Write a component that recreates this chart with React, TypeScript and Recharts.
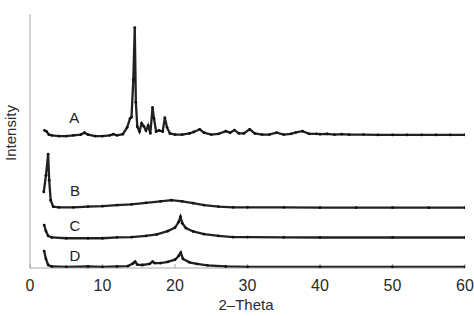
import React from 'react';
import { LineChart, Line, XAxis, YAxis, ReferenceDot, Label } from 'recharts';

// XRD patterns, traces stacked with an offset (arbitrary intensity units)
const aTheta = [2.0, 2.3, 2.6, 3, 4, 5, 6, 7, 7.5, 8, 9, 10, 11, 11.5, 12, 12.8, 13.4, 13.8, 14.0, 14.25, 14.45, 14.6, 14.8, 15.1, 15.4, 15.7, 16.0, 16.3, 16.6, 16.9, 17.1, 17.4, 17.8, 18.3, 18.6, 18.9, 19.3, 20, 21, 22, 22.6, 23.4, 24, 25, 26, 27, 27.6, 28.2, 28.8, 29.5, 30.3, 31, 32, 33, 34, 35, 36, 36.7, 37.6, 38.5, 39.5, 40, 41, 42, 43, 44, 46, 48, 50, 52, 54, 56, 58, 60];
const aInt = [3.65, 3.62, 3.54, 3.52, 3.5, 3.5, 3.52, 3.54, 3.59, 3.54, 3.5, 3.5, 3.52, 3.55, 3.52, 3.55, 3.73, 3.97, 4.0, 5.0, 6.38, 4.4, 3.75, 3.62, 3.84, 3.76, 3.65, 3.78, 3.57, 4.26, 3.97, 3.62, 3.65, 3.62, 3.99, 3.73, 3.57, 3.54, 3.54, 3.57, 3.61, 3.68, 3.59, 3.54, 3.56, 3.63, 3.59, 3.66, 3.57, 3.57, 3.68, 3.57, 3.54, 3.54, 3.59, 3.54, 3.56, 3.6, 3.63, 3.56, 3.56, 3.55, 3.56, 3.54, 3.55, 3.54, 3.54, 3.53, 3.53, 3.53, 3.53, 3.53, 3.53, 3.53];

const bTheta = [1.9, 2.2, 2.5, 2.65, 2.85, 3.2, 4, 6, 8, 10, 12, 14, 16, 18, 19.5, 21, 22.5, 24, 26, 28, 30, 35, 40, 45, 50, 55, 60];
const bInt = [2.02, 2.46, 3.02, 2.33, 1.8, 1.63, 1.61, 1.61, 1.63, 1.64, 1.67, 1.69, 1.73, 1.77, 1.8, 1.77, 1.72, 1.67, 1.63, 1.61, 1.61, 1.61, 1.6, 1.6, 1.6, 1.6, 1.6];

const cTheta = [1.95, 2.2, 2.5, 3, 5, 8, 10, 12, 14, 16, 17.5, 19, 20, 20.5, 20.75, 21.0, 21.5, 22.5, 24, 26, 28, 30, 35, 40, 50, 60];
const cInt = [1.14, 0.98, 0.85, 0.81, 0.79, 0.79, 0.79, 0.81, 0.82, 0.85, 0.89, 0.98, 1.07, 1.22, 1.36, 1.19, 1.06, 0.97, 0.9, 0.85, 0.82, 0.82, 0.81, 0.81, 0.81, 0.81];

const dTheta = [1.95, 2.2, 2.5, 3, 5, 8, 10, 12, 13.5, 14.2, 14.5, 14.8, 15.5, 16.5, 16.9, 17.2, 18, 19, 20, 20.5, 20.8, 21.1, 22, 23, 24.5, 27, 30, 40, 50, 60];
const dInt = [0.45, 0.24, 0.08, 0.04, 0.03, 0.04, 0.03, 0.04, 0.05, 0.12, 0.17, 0.09, 0.08, 0.11, 0.17, 0.13, 0.13, 0.16, 0.22, 0.32, 0.41, 0.24, 0.15, 0.11, 0.07, 0.04, 0.03, 0.03, 0.03, 0.03];

const traceNames = ['A', 'B', 'C', 'D'];
const labelTheta = [6.1, 6.2, 6.2, 6.2];
const labelInt = [3.99, 2.05, 1.13, 0.32];

const xTicks = [0, 10, 20, 30, 40, 50, 60];
const yTicks = [0, 1, 2, 3, 4, 5, 6, 6.74];

const toPoints = (xs: number[], ys: number[]) => xs.map((t, i) => ({ theta: t, intensity: ys[i] }));

const traces = [
  toPoints(aTheta, aInt),
  toPoints(bTheta, bInt),
  toPoints(cTheta, cInt),
  toPoints(dTheta, dInt),
];

const FONT = 'Liberation Sans, Arial, sans-serif';

const App: React.FC = () => {
  return (
    <div style={{ position: 'absolute', left: 0, top: 0, width: 474, height: 316, background: '#fff', fontFamily: FONT }}>
      <LineChart width={474} height={316} margin={{ top: 14, right: 9, left: 0, bottom: 0 }}>
        <XAxis
          type="number"
          dataKey="theta"
          domain={[0, 60]}
          ticks={xTicks}
          height={48}
          allowDataOverflow
          axisLine={{ stroke: '#a8a8a8' }}
          tickLine={{ stroke: '#a8a8a8' }}
          tickSize={-4}
          tickMargin={16}
          tick={{ fill: '#2a2a2a', fontSize: 16, fontFamily: FONT }}
        >
          <Label
            content={() => (
              <text x={246} y={310} textAnchor="middle" fill="#2a2a2a" fontSize={15} fontFamily={FONT}>
                2–Theta
              </text>
            )}
          />
        </XAxis>
        <YAxis
          type="number"
          dataKey="intensity"
          domain={[0, 6.74]}
          ticks={yTicks}
          width={30}
          allowDataOverflow
          axisLine={{ stroke: '#a8a8a8' }}
          tickLine={{ stroke: '#a8a8a8' }}
          tickSize={-4}
          tick={false}
        >
          <Label
            content={() => (
              <text
                x={10}
                y={133}
                transform="rotate(-90 10 133)"
                textAnchor="middle"
                dominantBaseline="central"
                fill="#2a2a2a"
                fontSize={15}
                fontFamily={FONT}
              >
                Intensity
              </text>
            )}
          />
        </YAxis>
        {traces.map((pts, i) => (
          <Line
            key={traceNames[i]}
            data={pts}
            dataKey="intensity"
            type="linear"
            stroke="#222"
            strokeWidth={2.3}
            dot={{ r: 1.4, fill: '#111', stroke: 'none' }}
            isAnimationActive={false}
          />
        ))}
        {traceNames.map((name, i) => (
          <ReferenceDot
            key={'lbl' + name}
            x={labelTheta[i]}
            y={labelInt[i]}
            r={0}
            fill="none"
            stroke="none"
            label={{ value: name, position: 'center', fill: '#222', fontSize: 15, fontFamily: FONT }}
          />
        ))}
      </LineChart>
    </div>
  );
};

export default App;
